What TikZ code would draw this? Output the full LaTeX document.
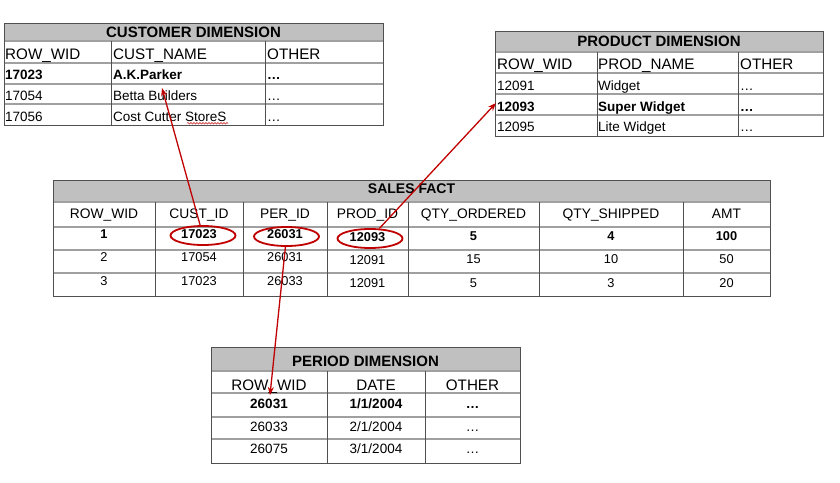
\documentclass[tikz,border=0pt]{standalone}
\usepackage{fontspec}
\setmainfont{Liberation Sans}
\usetikzlibrary{arrows.meta,shapes.geometric,decorations.pathmorphing}
\definecolor{keyred}{RGB}{192,0,0}
\definecolor{bandgray}{RGB}{192,192,192}
\definecolor{rulegray}{RGB}{160,160,160}
\definecolor{framegray}{RGB}{80,80,80}
\tikzset{
	title/.style={anchor=base, inner sep=1pt, font=\bfseries\fontsize{15}{17}\selectfont},
	facttitle/.style={title, font=\bfseries\fontsize{14}{16}\selectfont},
	head/.style={anchor=base west, inner sep=1pt, font=\fontsize{15.2}{17}\selectfont},
	cell/.style={anchor=base west, inner sep=1pt, font=\fontsize{13.5}{15}\selectfont},
	midhead/.style={head, anchor=base},
	midcell/.style={cell, anchor=base},
	facthead/.style={anchor=base, inner sep=1pt, font=\fontsize{13.8}{15}\selectfont},
	factcell/.style={anchor=base, inner sep=1pt, font=\fontsize{12.8}{14}\selectfont},
	rowline/.style={draw=rulegray, line width=1.4pt},
	colline/.style={draw=framegray, line width=0.8pt},
	frame/.style={draw=framegray, line width=0.9pt},
	keyring/.style={ellipse, draw=keyred, line width=1.8pt, minimum width=65pt, minimum height=19pt, inner sep=0pt},
	link/.style={draw=keyred, line width=1.3pt, -{Stealth[length=8pt,width=6pt]}}
}
\begin{document}
\begin{tikzpicture}[x=1pt,y=-1pt]
	\useasboundingbox (0,0) rectangle (840,482);
	\begin{scope}
		\fill[bandgray] (4,23) rectangle (383,41);
		\foreach \y in {41,63,84,104}
			\draw[rowline] (4,\y) -- (383,\y);
		\foreach \x in {111,265}
			\draw[colline] (\x,41) -- (\x,125);
		\draw[frame] (4,23) rectangle (383,125);
		\node[title] at (193.5,37) (custtitle) {CUSTOMER DIMENSION};
		\node[head] at (4,59) (cust01) {ROW\_WID};
		\node[head] at (112,59) (cust02) {CUST\_NAME};
		\node[head] at (266,59) (cust03) {OTHER};
		\foreach \y/\a/\b/\c [count=\i] in {79.5/\bfseries 17023/\bfseries A.K.Parker/\bfseries\dots, 100.5/17054/Betta Builders/\dots, 121/17056/Cost Cutter StoreS/\dots}
		{
			\node[cell] at (4,\y) (cust\i1) {\a};
			\node[cell] at (112,\y) (cust\i2) {\b};
			\node[cell] at (266,\y) (cust\i3) {\c};
		}
		\draw[keyred, line width=0.5pt, decorate, decoration={snake, amplitude=0.8pt, segment length=3pt}] (187,123.3) -- (228,123.3);
	\end{scope}
	\begin{scope}
		\fill[bandgray] (495,31) rectangle (823,52);
		\foreach \y in {52,73,94,115}
			\draw[rowline] (495,\y) -- (823,\y);
		\foreach \x in {597,738}
			\draw[colline] (\x,52) -- (\x,136);
		\draw[frame] (495,31) rectangle (823,136);
		\node[title] at (659,46.5) (prodtitle) {PRODUCT DIMENSION};
		\node[head] at (496,69) (prod01) {ROW\_WID};
		\node[head] at (597,69) (prod02) {PROD\_NAME};
		\node[head] at (739,69) (prod03) {OTHER};
		\foreach \y/\a/\b/\c [count=\i] in {90/12091/Widget/\dots, 111/\bfseries 12093/\bfseries Super Widget/\bfseries\dots, 131.5/12095/Lite Widget/\dots}
		{
			\node[cell] at (496,\y) (prod\i1) {\a};
			\node[cell] at (597,\y) (prod\i2) {\b};
			\node[cell] at (739,\y) (prod\i3) {\c};
		}
	\end{scope}
	\begin{scope}
		\fill[bandgray] (53,180) rectangle (770,202);
		\foreach \y in {202,227,250,273}
			\draw[rowline] (53,\y) -- (770,\y);
		\foreach \x in {155,243,327,408,539,683}
			\draw[colline] (\x,202) -- (\x,296);
		\draw[frame] (53,180) rectangle (770,296);
		\node[facttitle] at (411.5,193) (facttitle) {SALES FACT};
		\foreach \x/\h [count=\j] in {104/ROW\_WID, 199/CUST\_ID, 285/PER\_ID, 367.5/PROD\_ID, 473.5/QTY\_ORDERED, 611/QTY\_SHIPPED, 726.5/AMT}
			\node[facthead] at (\x,218) (fact0\j) {\h};
		\foreach \y/\f/\a/\b/\c/\d/\e/\g/\h [count=\i] in {238.5/\bfseries/1/17023/26031/12093/5/4/100, 261.5/\mdseries/2/17054/26031/12091/15/10/50, 285/\mdseries/3/17023/26033/12091/5/3/20}
		{
			\node[factcell] at (104,\y) (fact\i1) {\f\a};
			\node[factcell] at (199,\y) (fact\i2) {\f\b};
			\node[factcell] at (285,\y) (fact\i3) {\f\c};
			\node[factcell] at (367.5,\y+2.5) (fact\i4) {\f\d};
			\node[factcell] at (473.5,\y+2) (fact\i5) {\f\e};
			\node[factcell] at (611,\y+2) (fact\i6) {\f\g};
			\node[factcell] at (726.5,\y+2) (fact\i7) {\f\h};
		}
		\node[keyring] at (203,235.5) (custkey) {};
		\node[keyring] at (286.5,236.5) (perkey) {};
		\node[keyring] at (370,238.5) (prodkey) {};
	\end{scope}
	\begin{scope}
		\fill[bandgray] (211,347) rectangle (520,371);
		\foreach \y in {371,393,417,439}
			\draw[rowline] (211,\y) -- (520,\y);
		\foreach \x in {327,425}
			\draw[colline] (\x,371) -- (\x,463);
		\draw[frame] (211,347) rectangle (520,463);
		\node[title] at (365.5,366.5) (pertitle) {PERIOD DIMENSION};
		\node[midhead] at (269,390) (per01) {ROW\_WID};
		\node[midhead] at (376,390) (per02) {DATE};
		\node[midhead] at (472.5,390) (per03) {OTHER};
		\foreach \y/\a/\b/\c [count=\i] in {408.5/\bfseries 26031/{\bfseries 1/1/2004}/\bfseries\dots, 431.5/26033/{2/1/2004}/\dots, 453.5/26075/{3/1/2004}/\dots}
		{
			\node[midcell] at (269,\y) (per\i1) {\a};
			\node[midcell] at (376,\y) (per\i2) {\b};
			\node[midcell] at (472.5,\y) (per\i3) {\c};
		}
	\end{scope}
	\coordinate (custtip) at (162,88);
	\coordinate (prodtip) at (496,103);
	\coordinate (pertip) at (270,395);
	\draw[link] (custkey) -- (custtip);
	\draw[link] (prodkey) -- (prodtip);
	\draw[link] (perkey) -- (pertip);
\end{tikzpicture}
\end{document}
